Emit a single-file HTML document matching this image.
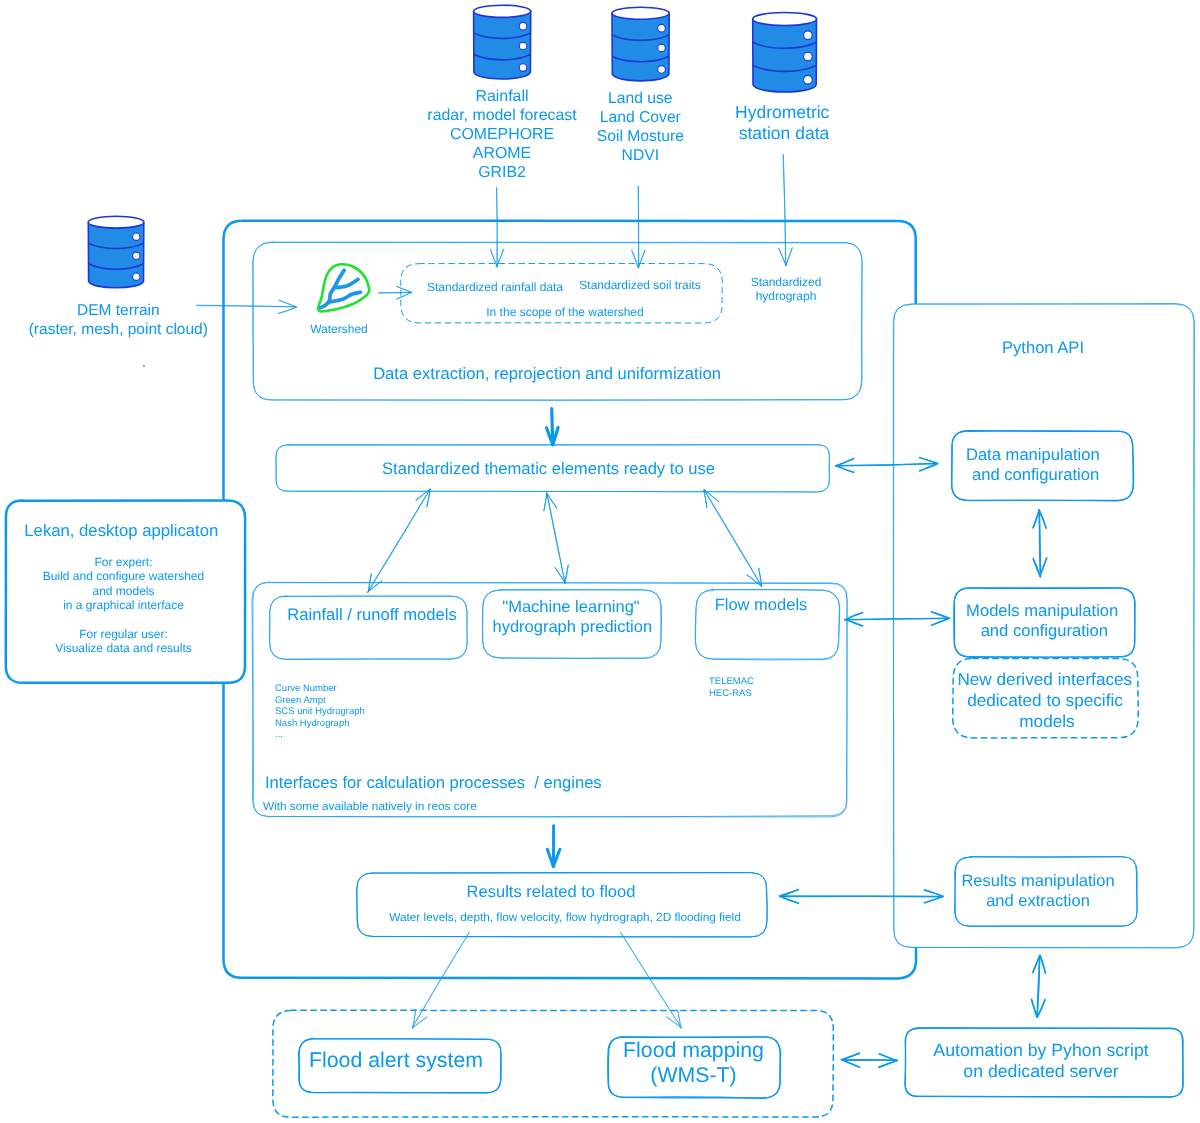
<!DOCTYPE html>
<html lang="en">
<head>
<meta charset="utf-8">
<title>Lekan / Reos architecture</title>
<style>
html,body{margin:0;padding:0;background:#fff;}
body{width:1200px;height:1123px;overflow:hidden;}
svg{display:block;will-change:transform;}
svg text{font-family:"Liberation Sans",sans-serif;fill:#0a98f0;text-rendering:geometricPrecision;}
</style>
</head>
<body>
<svg width="1200" height="1123" viewBox="0 0 1200 1123">
<path d="M241.6 220.8Q570.2 220.6 898 220.9Q915.7 221 915.7 239Q915.6 598.6 916 960.3Q915.8 977.9 898.1 978.4Q570 978 242 977.8Q223.9 978 223.5 959.9Q223.5 600.3 223.5 239Q223.8 220.9 241.7 220.7" fill="none" stroke="#0a98f0" stroke-width="2.5" stroke-linecap="round"/>
<path d="M272.7 242.1Q557.9 242.2 841.9 242.4Q862 242.2 862.2 262.4Q861.8 321.3 862 380.2Q862.1 399.9 842.3 399.8Q557.3 400.2 272.8 400Q252.7 400.1 253.2 380Q253.3 320.7 253.1 262.4Q253 242.3 273.2 242.6" fill="none" stroke="#0a98f0" stroke-width="0.7" stroke-linecap="round"/>
<path d="M273 242.5Q555.4 242.7 842.2 242.9Q862.4 242 861.9 262.5Q861.1 321 861.6 379.5Q861.5 400.3 841.6 399.7Q557 400.7 272.5 399.9Q253.1 400.5 253.4 380.4Q252.6 320.7 252.8 262.8Q253.5 241.9 272.6 242" fill="none" stroke="#0a98f0" stroke-width="0.7" stroke-linecap="round"/>
<path d="M418.8 263.6Q561.7 263.4 703.7 263.6Q721.9 263.6 722.3 281.7Q722 293.5 722.1 304.5Q722.2 323 704.2 323Q561.2 322.7 418.8 322.9Q400.7 322.5 400.8 304.6Q400.9 292.1 400.7 281.4Q400.8 263.5 418.7 263.8" fill="none" stroke="#0a98f0" stroke-width="1" stroke-linecap="round" stroke-dasharray="5.5 4.5"/>
<path d="M288.1 444.5Q552.2 444.6 817.5 444.5Q829.8 445 829.6 456.7Q829.2 467.1 829.5 479.4Q829.8 491.3 817.3 491.8Q552.9 491.2 288 491.2Q276 491.8 276.2 479.6Q275.8 467.8 275.8 456.9Q276 444.9 287.9 444.5" fill="none" stroke="#0a98f0" stroke-width="0.7" stroke-linecap="round"/>
<path d="M288.4 445.3Q554.5 445.3 818 445Q829.3 444.7 829.4 456.1Q828.8 467 829.3 479.7Q830.1 491.4 818.1 492.1Q555 491.3 287.7 491.2Q275.6 491.1 276.1 480Q276.6 468 276.2 457.1Q275.5 444.9 288.5 445" fill="none" stroke="#0a98f0" stroke-width="0.7" stroke-linecap="round"/>
<path d="M269.3 582.5Q548.3 583.1 830.8 582.9Q847.6 582.4 846.9 599.1Q847.4 697.8 846.5 800Q847.5 816.9 830.5 816.9Q552.5 816.8 268.8 816.6Q252.5 815.9 253.6 800.7Q253.1 701.8 252.9 599Q253.4 582.1 268.7 582.2" fill="none" stroke="#0a98f0" stroke-width="0.7" stroke-linecap="round"/>
<path d="M268.3 582.7Q547.5 582.2 830 583.6Q846.6 582.4 847.2 599.6Q846.7 703.8 847 800.6Q847.1 815.2 830.8 815.7Q544.8 817.7 268.1 816.4Q253.6 816.6 252.5 800.5Q253.2 702.5 252 598.7Q252.3 581.9 269.7 582.5" fill="none" stroke="#0a98f0" stroke-width="0.7" stroke-linecap="round"/>
<path d="M286 596.2Q369.5 595.9 451.1 596Q467 596.1 467 612Q467 628.6 467.1 643.2Q467.3 658.9 451 659.3Q369.3 658.7 285.8 659Q269.7 658.8 269.7 643.1Q270.3 628.5 269.8 612.1Q270.1 595.8 286.2 596.3" fill="none" stroke="#0a98f0" stroke-width="0.7" stroke-linecap="round"/>
<path d="M285.7 596.5Q368 596 451.6 596.4Q466.6 595.9 467 611.8Q466.5 626.6 467.3 642.4Q467.1 658.9 450.4 658.8Q369.1 659 285.5 659.6Q270.3 659.6 269.5 642.7Q269.2 628.8 269.7 611.6Q269.9 596.5 286.4 595.7" fill="none" stroke="#0a98f0" stroke-width="0.7" stroke-linecap="round"/>
<path d="M499.8 590.3Q572.2 590.2 643.8 589.7Q661.1 590 660.7 607.3Q661.1 624.7 660.8 641.2Q660.7 658.2 644 657.9Q572.1 658.4 499.9 657.8Q483 657.8 482.8 640.8Q482.6 623.3 482.9 606.9Q483.2 589.9 500 589.8" fill="none" stroke="#0a98f0" stroke-width="0.7" stroke-linecap="round"/>
<path d="M499.8 589.4Q570.8 589.1 644.3 590.1Q660.6 590 661.5 606.5Q661.6 623.7 661 641.4Q660.9 658 644.2 658.6Q571.2 658.6 500.2 658.2Q482.9 657.8 482.5 640.6Q482.2 625.2 482.7 606.6Q482.5 590.4 500.4 590.2" fill="none" stroke="#0a98f0" stroke-width="0.7" stroke-linecap="round"/>
<path d="M712.8 589.7Q766.7 589.9 821.7 589.9Q838.8 590.5 839.5 607Q838.6 626.4 838.8 641.9Q838.5 658.9 822 659Q766.3 659 712.5 658.8Q695.6 658.9 695.5 641.5Q695.7 623.4 696.1 607Q696.3 590.2 713.2 590.4" fill="none" stroke="#0a98f0" stroke-width="0.7" stroke-linecap="round"/>
<path d="M712.8 589.7Q771.4 588.9 822.4 590.3Q838.1 590.7 839.8 607.3Q839.7 627 838.3 642Q839 659.7 822.6 659.7Q768.2 660.2 713.4 659.4Q695.5 658.1 695.3 641.7Q694.8 627.2 696.1 607.3Q696.3 590.4 713 589" fill="none" stroke="#0a98f0" stroke-width="0.7" stroke-linecap="round"/>
<path d="M373.2 873.1Q562 873 751.1 872.7Q767.1 872.9 766.7 888.9Q767.2 904.2 767.1 921.1Q767 936.7 751 936.9Q562.6 936.9 373.1 936.5Q356.8 936.7 357.1 920.7Q357.1 903.7 356.7 888.9Q357.1 873.1 373.1 872.9" fill="none" stroke="#0a98f0" stroke-width="1" stroke-linecap="round"/>
<path d="M373 873Q561.8 872.3 751.5 872.6Q767.6 873.5 766.4 889Q767.6 907.1 766.9 920.5Q766.7 937.3 750.7 936.9Q560.3 936.8 373.5 936.4Q357.4 936.8 357.5 921Q356.5 906.8 357 888.4Q356.4 873 372.9 872.8" fill="none" stroke="#0a98f0" stroke-width="1" stroke-linecap="round"/>
<path d="M290.8 1010.2Q552.6 1010.6 814.7 1010.5Q833.2 1010.1 833.3 1028.4Q833.4 1063.1 832.9 1098.9Q833.3 1117.1 814.9 1117Q552.5 1116.6 290.8 1117.2Q272.9 1117.3 272.8 1098.9Q273 1062.9 272.9 1028.6Q273.2 1010.5 291.1 1010.5" fill="none" stroke="#0a98f0" stroke-width="1.5" stroke-linecap="round" stroke-dasharray="5.5 4.5"/>
<path d="M314.3 1039Q400.5 1038.6 486.1 1039Q501.2 1039.1 500.9 1053.7Q501.4 1065 501 1077.7Q500.9 1092.9 486.3 1092.7Q400.4 1092.6 314 1092.7Q298.8 1092.6 298.8 1078Q299 1065.2 299.2 1054.3Q299 1038.8 313.8 1038.8" fill="none" stroke="#0a98f0" stroke-width="1.2" stroke-linecap="round"/>
<path d="M313.8 1038.5Q398.7 1038.6 486.1 1039.5Q501.3 1038.9 500.9 1054Q500.8 1065.1 500.5 1077.5Q501.6 1092.4 486 1093Q401.7 1092.3 313.7 1092.5Q298.9 1092.7 299.5 1078.2Q299.7 1063.6 298.4 1054.3Q299.5 1039 314.1 1038.4" fill="none" stroke="#0a98f0" stroke-width="1.2" stroke-linecap="round"/>
<path d="M623.9 1037.4Q695.2 1037.5 764.4 1036.8Q779.6 1036.7 780 1053.2Q780.6 1068 780.1 1081.7Q780 1097.5 763.6 1097.8Q693 1098.1 624.1 1097.3Q607.7 1097.3 608.1 1081.7Q607.5 1065.7 608 1053.1Q607.9 1036.8 624.1 1036.6" fill="none" stroke="#0a98f0" stroke-width="1.2" stroke-linecap="round"/>
<path d="M623.6 1036.9Q697.3 1037.4 764.7 1037Q779.5 1036.5 780.8 1053.4Q779.5 1063.8 780 1081.8Q779.9 1097.1 764.3 1098.3Q692 1096.2 623.7 1097.4Q608.3 1097 608.5 1081.9Q608 1065.1 608.8 1052.7Q608.6 1036.5 623.5 1037.5" fill="none" stroke="#0a98f0" stroke-width="1.2" stroke-linecap="round"/>
<path d="M911.6 304Q1043.8 304 1176 304Q1194 304 1194 322Q1194 625.8 1194 929.6Q1194 947.6 1176 947.6Q1043.8 947.6 911.6 947.6Q893.6 947.6 893.6 929.6Q893.6 625.8 893.6 322Q893.6 304 911.6 304" fill="#fff" stroke="none"/>
<path d="M911.8 303.8Q1044.7 303.8 1175.9 304.2Q1194.2 304 1193.8 322Q1193.9 626.6 1193.8 929.5Q1194.2 947.4 1176 947.8Q1044.3 947.3 911.4 947.4Q893.8 947.5 893.7 929.8Q893.5 625.3 893.8 322.1Q893.5 304.1 911.5 303.9" fill="none" stroke="#0a98f0" stroke-width="0.7" stroke-linecap="round"/>
<path d="M911.1 304.3Q1045.5 304.2 1176.4 303.5Q1193.7 304 1194.5 322.5Q1193.8 624.8 1193.9 929.6Q1194.4 947.3 1176.3 947.8Q1045.1 948 911.7 947.4Q893.4 947.5 893.9 929.2Q893.1 626.8 893.3 321.6Q893.1 304.1 911.4 304.5" fill="none" stroke="#0a98f0" stroke-width="0.7" stroke-linecap="round"/>
<path d="M968.2 431.3Q1041.9 430.6 1116.8 431Q1133.1 431 1132.8 447Q1133.1 466.2 1133.1 484.7Q1133.1 500.3 1117.2 500.4Q1042.7 500.4 968.1 500.3Q951.8 500.3 951.8 484.7Q952.1 465.3 951.9 447.3Q952 430.8 968.2 431.1" fill="none" stroke="#0a98f0" stroke-width="1.2" stroke-linecap="round"/>
<path d="M968.6 430.5Q1042.4 431.6 1117.4 431.5Q1132.4 430.8 1132.5 446.6Q1133.9 466.1 1133.5 484.3Q1133.4 500.4 1116.7 500.8Q1044.6 499.8 968.1 500.6Q951.7 500.3 951.6 484.1Q951.6 466.2 952.2 446.6Q951.4 430.8 968.2 430.6" fill="none" stroke="#0a98f0" stroke-width="1.2" stroke-linecap="round"/>
<path d="M969.9 587.8Q1045.2 588 1118.7 587.8Q1134.9 588 1135.1 603.8Q1134.7 623 1134.9 640.9Q1134.9 657.3 1118.9 657Q1044.2 656.9 970.2 657.3Q953.9 656.8 954.1 640.8Q953.6 623.5 954 604.2Q953.9 588.2 970 587.8" fill="none" stroke="#0a98f0" stroke-width="1.2" stroke-linecap="round"/>
<path d="M969.4 588.1Q1045.2 588.7 1118.5 588.1Q1134.8 588 1134.6 603.7Q1135 624.5 1134.5 641Q1135.4 657.6 1118.6 656.6Q1046.6 657.9 970 656.5Q954.5 656.9 954.5 641.1Q954.6 620.9 954.3 603.7Q953.9 588.4 970.4 587.6" fill="none" stroke="#0a98f0" stroke-width="1.2" stroke-linecap="round"/>
<path d="M972.8 658.5Q1045.5 658.5 1117.8 658.4Q1138.1 658.8 1137.7 678.6Q1138.2 697.1 1138.2 717.6Q1138.1 737.8 1118.1 737.7Q1045.3 737.9 973 737.9Q953 737.8 952.7 717.9Q953 697.6 953.2 678.8Q953 658.4 973 658.4" fill="none" stroke="#0a98f0" stroke-width="1.5" stroke-linecap="round" stroke-dasharray="5.5 4.5"/>
<path d="M969.8 857Q1045 856.9 1122 856.7Q1137.1 856.7 1137.1 872.2Q1137 890.4 1137 910.9Q1137.3 925.8 1122.2 926.3Q1046.6 926.3 969.8 926.3Q955 926.3 955.2 910.8Q955.3 892.5 954.7 871.9Q955.2 856.8 970.2 856.9" fill="none" stroke="#0a98f0" stroke-width="1" stroke-linecap="round"/>
<path d="M970.4 856.6Q1046 857.8 1121.6 856.7Q1137 856.8 1136.4 871.6Q1136.4 893.6 1137.2 911.5Q1136.6 926.3 1121.5 926Q1046.7 925.7 970.4 926.1Q955.1 926.5 954.5 911.6Q955.2 891 955.4 871.7Q955.6 857.1 969.8 857.3" fill="none" stroke="#0a98f0" stroke-width="1" stroke-linecap="round"/>
<path d="M918.5 1028.1Q1044.8 1027.9 1170.2 1028.2Q1183.1 1028.6 1183.1 1041.4Q1182.8 1061.3 1182.7 1083.5Q1183.1 1096.7 1170 1096.9Q1043.4 1096.5 918.6 1096.4Q905.2 1096.6 905.3 1083.6Q905.3 1062.7 905.6 1041.1Q905.6 1028.3 918.3 1028.6" fill="none" stroke="#0a98f0" stroke-width="1.2" stroke-linecap="round"/>
<path d="M918.2 1027.9Q1042.3 1028.5 1170.4 1028.6Q1182.9 1028 1182.4 1041.5Q1183.1 1061.8 1183.2 1083.6Q1183.5 1097 1169.7 1097.2Q1042.1 1096.8 918.4 1096.4Q905 1097 904.9 1083.8Q906.3 1060.8 905.1 1041.4Q905.5 1028.5 918.9 1027.9" fill="none" stroke="#0a98f0" stroke-width="1.2" stroke-linecap="round"/>
<path d="M23 500.5Q125.5 500.5 228 500.5Q245 500.5 245 517.5Q245 591.6 245 665.7Q245 682.7 228 682.7Q125.5 682.7 23 682.7Q6 682.7 6 665.7Q6 591.6 6 517.5Q6 500.5 23 500.5" fill="#fff" stroke="none"/>
<path d="M23.1 500.8Q126.1 500.3 228.2 500.4Q244.8 500.7 245.1 517.6Q245.1 592.7 245 665.9Q245.1 682.9 228 682.8Q125.7 682.5 22.8 682.8Q5.7 682.9 5.8 665.4Q5.6 592.6 5.9 517.3Q5.7 500.2 23.1 500.6" fill="none" stroke="#0a98f0" stroke-width="2.5" stroke-linecap="round"/>
<path d="M496.6 187.6 Q497.4 227.5 496.9 266.9" fill="none" stroke="#0a98f0" stroke-width="0.7" stroke-linecap="round"/>
<path d="M496.6 187.9 Q497.6 227.8 497.4 267" fill="none" stroke="#0a98f0" stroke-width="0.7" stroke-linecap="round"/>
<path d="M496.7 266.2 Q493.1 257.5 490.6 249.6" fill="none" stroke="#0a98f0" stroke-width="0.7" stroke-linecap="round"/>
<path d="M497.1 266.4 Q493.9 258.5 490.1 249" fill="none" stroke="#0a98f0" stroke-width="0.7" stroke-linecap="round"/>
<path d="M496.9 266.5 Q500.7 257.5 503.2 249.1" fill="none" stroke="#0a98f0" stroke-width="0.7" stroke-linecap="round"/>
<path d="M496.9 266.5 Q500 258.3 504 249.3" fill="none" stroke="#0a98f0" stroke-width="0.7" stroke-linecap="round"/>
<path d="M638 186.4 Q639.2 227.2 638.4 267.8" fill="none" stroke="#0a98f0" stroke-width="0.7" stroke-linecap="round"/>
<path d="M638.5 186.2 Q638.2 227.4 638.9 267.1" fill="none" stroke="#0a98f0" stroke-width="0.7" stroke-linecap="round"/>
<path d="M638.1 267.3 Q635.7 258.3 632.1 250.6" fill="none" stroke="#0a98f0" stroke-width="0.7" stroke-linecap="round"/>
<path d="M638.5 267.7 Q634.4 258.8 631.6 250.2" fill="none" stroke="#0a98f0" stroke-width="0.7" stroke-linecap="round"/>
<path d="M638.3 267.9 Q641.6 259.4 645 250" fill="none" stroke="#0a98f0" stroke-width="0.7" stroke-linecap="round"/>
<path d="M638.2 267.6 Q642.1 258.9 644.8 250.5" fill="none" stroke="#0a98f0" stroke-width="0.7" stroke-linecap="round"/>
<path d="M783.1 154.9 Q784.9 210.8 785.9 265.3" fill="none" stroke="#0a98f0" stroke-width="0.7" stroke-linecap="round"/>
<path d="M783.4 154.5 Q785.3 209.4 785.7 265.2" fill="none" stroke="#0a98f0" stroke-width="0.7" stroke-linecap="round"/>
<path d="M785.9 265.7 Q783.1 256.9 778.7 248.3" fill="none" stroke="#0a98f0" stroke-width="0.7" stroke-linecap="round"/>
<path d="M786.2 265.5 Q782.5 257.3 778.8 248.2" fill="none" stroke="#0a98f0" stroke-width="0.7" stroke-linecap="round"/>
<path d="M786.1 265.6 Q788.5 257.2 791.9 247.9" fill="none" stroke="#0a98f0" stroke-width="0.7" stroke-linecap="round"/>
<path d="M785.7 265.4 Q789.5 256.8 792.5 247.7" fill="none" stroke="#0a98f0" stroke-width="0.7" stroke-linecap="round"/>
<path d="M196.9 305.7 Q245.9 305.9 296 306.8" fill="none" stroke="#0a98f0" stroke-width="0.7" stroke-linecap="round"/>
<path d="M196.7 305.1 Q246 305.9 296.1 306.8" fill="none" stroke="#0a98f0" stroke-width="0.7" stroke-linecap="round"/>
<path d="M296 307.5 Q288.4 310.6 278.6 313.3" fill="none" stroke="#0a98f0" stroke-width="0.7" stroke-linecap="round"/>
<path d="M296.5 307 Q288.4 310.7 278.7 313.5" fill="none" stroke="#0a98f0" stroke-width="0.7" stroke-linecap="round"/>
<path d="M296.2 306.7 Q287.1 303.2 279.1 300.4" fill="none" stroke="#0a98f0" stroke-width="0.7" stroke-linecap="round"/>
<path d="M296.4 307.1 Q288 303.6 278.9 300.3" fill="none" stroke="#0a98f0" stroke-width="0.7" stroke-linecap="round"/>
<path d="M378.9 292.7 Q394.7 293 411.4 292.5" fill="none" stroke="#0a98f0" stroke-width="0.7" stroke-linecap="round"/>
<path d="M378.7 293.2 Q394.7 292 411.6 292.5" fill="none" stroke="#0a98f0" stroke-width="0.7" stroke-linecap="round"/>
<path d="M411.4 292.3 Q404.6 296 396.6 299.1" fill="none" stroke="#0a98f0" stroke-width="0.7" stroke-linecap="round"/>
<path d="M411.5 292.5 Q403.4 295.5 396.9 298.8" fill="none" stroke="#0a98f0" stroke-width="0.7" stroke-linecap="round"/>
<path d="M411.4 292.2 Q403.8 289.1 396.7 286.4" fill="none" stroke="#0a98f0" stroke-width="0.7" stroke-linecap="round"/>
<path d="M411.5 292.2 Q403.4 289.4 396.6 286.4" fill="none" stroke="#0a98f0" stroke-width="0.7" stroke-linecap="round"/>
<path d="M551.7 408.5 Q552.1 426.5 552.9 444.6" fill="none" stroke="#0a98f0" stroke-width="3.2" stroke-linecap="round"/>
<path d="M552.8 444.6 Q549.5 436.2 546.5 427.8" fill="none" stroke="#0a98f0" stroke-width="3.2" stroke-linecap="round"/>
<path d="M552.8 444.7 Q555.6 436 558.1 427.5" fill="none" stroke="#0a98f0" stroke-width="3.2" stroke-linecap="round"/>
<path d="M553.6 825.7 Q553.6 846.1 553.5 866.3" fill="none" stroke="#0a98f0" stroke-width="3" stroke-linecap="round"/>
<path d="M553.4 866.4 Q550.3 857.7 547.3 849.2" fill="none" stroke="#0a98f0" stroke-width="3" stroke-linecap="round"/>
<path d="M553.4 866.4 Q556.6 857.7 559.9 849.2" fill="none" stroke="#0a98f0" stroke-width="3" stroke-linecap="round"/>
<path d="M430 488.9 Q398.5 541.2 367.6 592.2" fill="none" stroke="#0a98f0" stroke-width="0.8" stroke-linecap="round"/>
<path d="M430.1 489.3 Q399.7 540.8 367.7 592.4" fill="none" stroke="#0a98f0" stroke-width="0.8" stroke-linecap="round"/>
<path d="M368.3 592.2 Q369.4 583.3 371.1 574" fill="none" stroke="#0a98f0" stroke-width="0.8" stroke-linecap="round"/>
<path d="M368.3 591.8 Q369.7 582.4 371.5 574" fill="none" stroke="#0a98f0" stroke-width="0.8" stroke-linecap="round"/>
<path d="M367.9 591.6 Q374.9 586 381.8 581" fill="none" stroke="#0a98f0" stroke-width="0.8" stroke-linecap="round"/>
<path d="M367.8 591.9 Q374.8 586 382.2 581" fill="none" stroke="#0a98f0" stroke-width="0.8" stroke-linecap="round"/>
<path d="M430.4 489.5 Q428.8 497.8 426.6 507.2" fill="none" stroke="#0a98f0" stroke-width="0.8" stroke-linecap="round"/>
<path d="M429.8 489.5 Q429.2 498.5 427 506.5" fill="none" stroke="#0a98f0" stroke-width="0.8" stroke-linecap="round"/>
<path d="M430.2 489 Q422.2 495.4 415.6 500" fill="none" stroke="#0a98f0" stroke-width="0.8" stroke-linecap="round"/>
<path d="M430 488.9 Q422.6 495.2 416.2 500.5" fill="none" stroke="#0a98f0" stroke-width="0.8" stroke-linecap="round"/>
<path d="M547.1 493.3 Q555.3 538.8 565.2 583.4" fill="none" stroke="#0a98f0" stroke-width="0.8" stroke-linecap="round"/>
<path d="M546.7 493.2 Q556.6 538.7 565 583.2" fill="none" stroke="#0a98f0" stroke-width="0.8" stroke-linecap="round"/>
<path d="M565 582.8 Q560.1 576 555.2 567.5" fill="none" stroke="#0a98f0" stroke-width="0.8" stroke-linecap="round"/>
<path d="M565 582.7 Q560.2 574.7 555.4 567.8" fill="none" stroke="#0a98f0" stroke-width="0.8" stroke-linecap="round"/>
<path d="M564.6 583.3 Q566.6 574.7 568 565.3" fill="none" stroke="#0a98f0" stroke-width="0.8" stroke-linecap="round"/>
<path d="M564.9 582.9 Q566.8 574.7 568.4 564.9" fill="none" stroke="#0a98f0" stroke-width="0.8" stroke-linecap="round"/>
<path d="M546.6 493.1 Q552 500.8 556.8 508.6" fill="none" stroke="#0a98f0" stroke-width="0.8" stroke-linecap="round"/>
<path d="M547 493 Q551.5 501.4 556.9 507.8" fill="none" stroke="#0a98f0" stroke-width="0.8" stroke-linecap="round"/>
<path d="M546.9 493.3 Q545.8 502.1 543.9 510.7" fill="none" stroke="#0a98f0" stroke-width="0.8" stroke-linecap="round"/>
<path d="M546.8 492.9 Q545.5 502.3 543.9 510.8" fill="none" stroke="#0a98f0" stroke-width="0.8" stroke-linecap="round"/>
<path d="M704.4 489.9 Q733.5 537.6 761.6 585.9" fill="none" stroke="#0a98f0" stroke-width="0.8" stroke-linecap="round"/>
<path d="M704.3 490.3 Q732.9 539 761.4 585.9" fill="none" stroke="#0a98f0" stroke-width="0.8" stroke-linecap="round"/>
<path d="M761.7 586.3 Q754.2 580.7 747.1 575.2" fill="none" stroke="#0a98f0" stroke-width="0.8" stroke-linecap="round"/>
<path d="M761.2 585.9 Q755.1 580.6 747 574.7" fill="none" stroke="#0a98f0" stroke-width="0.8" stroke-linecap="round"/>
<path d="M761.7 586.3 Q760.7 577.4 758.8 568.5" fill="none" stroke="#0a98f0" stroke-width="0.8" stroke-linecap="round"/>
<path d="M761.8 586.2 Q760.2 577.4 758.7 568.1" fill="none" stroke="#0a98f0" stroke-width="0.8" stroke-linecap="round"/>
<path d="M704.3 489.7 Q711.4 495.5 718 500.7" fill="none" stroke="#0a98f0" stroke-width="0.8" stroke-linecap="round"/>
<path d="M704.2 489.9 Q711.6 496.2 718.5 501.3" fill="none" stroke="#0a98f0" stroke-width="0.8" stroke-linecap="round"/>
<path d="M703.9 489.9 Q705.7 498.5 707 507.7" fill="none" stroke="#0a98f0" stroke-width="0.8" stroke-linecap="round"/>
<path d="M703.7 490.1 Q705.9 499.6 706.8 507.4" fill="none" stroke="#0a98f0" stroke-width="0.8" stroke-linecap="round"/>
<path d="M836.4 465.7 Q887.4 465 937.1 463.7" fill="none" stroke="#0a98f0" stroke-width="1.3" stroke-linecap="round"/>
<path d="M836.5 465.8 Q887 465.7 937.5 463.4" fill="none" stroke="#0a98f0" stroke-width="1.3" stroke-linecap="round"/>
<path d="M937.3 463.4 Q929 466.9 919.6 471.1" fill="none" stroke="#0a98f0" stroke-width="1.3" stroke-linecap="round"/>
<path d="M937.3 464.1 Q928.2 468.1 919.7 470.6" fill="none" stroke="#0a98f0" stroke-width="1.3" stroke-linecap="round"/>
<path d="M937.8 463.5 Q929 460.2 919.4 457.6" fill="none" stroke="#0a98f0" stroke-width="1.3" stroke-linecap="round"/>
<path d="M937.8 463.5 Q929 461.1 919.8 457.5" fill="none" stroke="#0a98f0" stroke-width="1.3" stroke-linecap="round"/>
<path d="M835.8 466.2 Q844.7 462.9 853.8 458.3" fill="none" stroke="#0a98f0" stroke-width="1.3" stroke-linecap="round"/>
<path d="M836.3 465.5 Q844 462.5 853.4 458.8" fill="none" stroke="#0a98f0" stroke-width="1.3" stroke-linecap="round"/>
<path d="M836 465.4 Q844.4 469.6 853.8 472.3" fill="none" stroke="#0a98f0" stroke-width="1.3" stroke-linecap="round"/>
<path d="M835.7 466 Q844.8 469.3 853.8 472.4" fill="none" stroke="#0a98f0" stroke-width="1.3" stroke-linecap="round"/>
<path d="M844.9 619.7 Q897.3 618.6 949.5 618.4" fill="none" stroke="#0a98f0" stroke-width="1.3" stroke-linecap="round"/>
<path d="M844.6 619.9 Q897.2 618.3 949.3 618.4" fill="none" stroke="#0a98f0" stroke-width="1.3" stroke-linecap="round"/>
<path d="M949.5 618.4 Q940 621.8 931.5 625" fill="none" stroke="#0a98f0" stroke-width="1.3" stroke-linecap="round"/>
<path d="M949 618.2 Q940.2 622.2 931.5 625.4" fill="none" stroke="#0a98f0" stroke-width="1.3" stroke-linecap="round"/>
<path d="M948.7 617.9 Q940.7 614.5 931.2 611.6" fill="none" stroke="#0a98f0" stroke-width="1.3" stroke-linecap="round"/>
<path d="M948.7 618.4 Q940.7 615.4 931.5 611.8" fill="none" stroke="#0a98f0" stroke-width="1.3" stroke-linecap="round"/>
<path d="M845.3 619.6 Q853.9 615.5 862.8 612.7" fill="none" stroke="#0a98f0" stroke-width="1.3" stroke-linecap="round"/>
<path d="M845 619.6 Q853.6 615.2 862.4 612.6" fill="none" stroke="#0a98f0" stroke-width="1.3" stroke-linecap="round"/>
<path d="M845.1 619.5 Q854.6 622.3 862.8 625.8" fill="none" stroke="#0a98f0" stroke-width="1.3" stroke-linecap="round"/>
<path d="M845.2 619.4 Q853.5 623.1 862.5 626.2" fill="none" stroke="#0a98f0" stroke-width="1.3" stroke-linecap="round"/>
<path d="M780.1 896.7 Q861.9 895.9 943.2 896.5" fill="none" stroke="#0a98f0" stroke-width="1.3" stroke-linecap="round"/>
<path d="M779.7 896 Q861.4 896.6 942.5 896.7" fill="none" stroke="#0a98f0" stroke-width="1.3" stroke-linecap="round"/>
<path d="M942.7 896.5 Q933.4 899.9 924.2 902.8" fill="none" stroke="#0a98f0" stroke-width="1.3" stroke-linecap="round"/>
<path d="M942.5 896.6 Q934.4 899.6 924.7 902.9" fill="none" stroke="#0a98f0" stroke-width="1.3" stroke-linecap="round"/>
<path d="M942.8 896.1 Q933.8 892.9 924.1 890.2" fill="none" stroke="#0a98f0" stroke-width="1.3" stroke-linecap="round"/>
<path d="M942.9 896.3 Q934.2 893.1 924.7 889.7" fill="none" stroke="#0a98f0" stroke-width="1.3" stroke-linecap="round"/>
<path d="M780.3 896.7 Q789.9 893.4 798.1 889.3" fill="none" stroke="#0a98f0" stroke-width="1.3" stroke-linecap="round"/>
<path d="M779.7 895.9 Q788.7 892.5 798.4 889.9" fill="none" stroke="#0a98f0" stroke-width="1.3" stroke-linecap="round"/>
<path d="M780.3 896 Q789.1 900.4 798.4 902.9" fill="none" stroke="#0a98f0" stroke-width="1.3" stroke-linecap="round"/>
<path d="M779.8 896.4 Q788.5 900.4 798.4 903.4" fill="none" stroke="#0a98f0" stroke-width="1.3" stroke-linecap="round"/>
<path d="M1039.4 509.8 Q1040.1 542.9 1040.5 576.7" fill="none" stroke="#0a98f0" stroke-width="1.4" stroke-linecap="round"/>
<path d="M1039.3 510 Q1039.2 542.2 1040.4 576.6" fill="none" stroke="#0a98f0" stroke-width="1.4" stroke-linecap="round"/>
<path d="M1040.2 576.4 Q1037.1 566.6 1033.2 558.9" fill="none" stroke="#0a98f0" stroke-width="1.4" stroke-linecap="round"/>
<path d="M1040.2 576.6 Q1035.8 566.8 1033.2 558.4" fill="none" stroke="#0a98f0" stroke-width="1.4" stroke-linecap="round"/>
<path d="M1039.7 576.1 Q1043.5 567.7 1046.5 558.1" fill="none" stroke="#0a98f0" stroke-width="1.4" stroke-linecap="round"/>
<path d="M1039.8 575.9 Q1043.3 566.8 1046.8 558" fill="none" stroke="#0a98f0" stroke-width="1.4" stroke-linecap="round"/>
<path d="M1039.1 510.4 Q1043.3 518.5 1046.2 528.1" fill="none" stroke="#0a98f0" stroke-width="1.4" stroke-linecap="round"/>
<path d="M1039.2 510.1 Q1043.6 519.6 1046.1 528.1" fill="none" stroke="#0a98f0" stroke-width="1.4" stroke-linecap="round"/>
<path d="M1039.5 510 Q1036.7 519.2 1033.1 527.9" fill="none" stroke="#0a98f0" stroke-width="1.4" stroke-linecap="round"/>
<path d="M1039.3 509.7 Q1036.4 518.4 1033 527.9" fill="none" stroke="#0a98f0" stroke-width="1.4" stroke-linecap="round"/>
<path d="M1039.8 955.5 Q1038 987 1037.1 1016.8" fill="none" stroke="#0a98f0" stroke-width="1.4" stroke-linecap="round"/>
<path d="M1039.7 955.6 Q1039.4 986 1037.2 1017.4" fill="none" stroke="#0a98f0" stroke-width="1.4" stroke-linecap="round"/>
<path d="M1037 1017.3 Q1033.8 1009 1031.6 999.2" fill="none" stroke="#0a98f0" stroke-width="1.4" stroke-linecap="round"/>
<path d="M1037.2 1016.8 Q1034.4 1007.9 1031.4 999.9" fill="none" stroke="#0a98f0" stroke-width="1.4" stroke-linecap="round"/>
<path d="M1037.1 1016.8 Q1041.9 1009.2 1045.1 999.7" fill="none" stroke="#0a98f0" stroke-width="1.4" stroke-linecap="round"/>
<path d="M1037.8 1016.6 Q1041.4 1008.2 1045 999.9" fill="none" stroke="#0a98f0" stroke-width="1.4" stroke-linecap="round"/>
<path d="M1040.3 955.6 Q1042.4 963.6 1045.6 973.1" fill="none" stroke="#0a98f0" stroke-width="1.4" stroke-linecap="round"/>
<path d="M1040.1 955.3 Q1043.6 963.9 1045.6 973.4" fill="none" stroke="#0a98f0" stroke-width="1.4" stroke-linecap="round"/>
<path d="M1039.7 955.3 Q1036.7 963.6 1032.7 972.6" fill="none" stroke="#0a98f0" stroke-width="1.4" stroke-linecap="round"/>
<path d="M1040.1 955.8 Q1036 963.6 1032.9 972.6" fill="none" stroke="#0a98f0" stroke-width="1.4" stroke-linecap="round"/>
<path d="M841.8 1059.9 Q868.7 1059.4 897.2 1060.2" fill="none" stroke="#0a98f0" stroke-width="1.4" stroke-linecap="round"/>
<path d="M841.9 1060.4 Q869.9 1060 897 1060.1" fill="none" stroke="#0a98f0" stroke-width="1.4" stroke-linecap="round"/>
<path d="M897.3 1060.4 Q888.8 1063.9 878.9 1067.5" fill="none" stroke="#0a98f0" stroke-width="1.4" stroke-linecap="round"/>
<path d="M896.9 1060.7 Q887.9 1063.4 878.8 1067.2" fill="none" stroke="#0a98f0" stroke-width="1.4" stroke-linecap="round"/>
<path d="M896.7 1060.8 Q888.1 1057.1 879.6 1053.9" fill="none" stroke="#0a98f0" stroke-width="1.4" stroke-linecap="round"/>
<path d="M896.9 1060.8 Q887.9 1057.4 879 1053.9" fill="none" stroke="#0a98f0" stroke-width="1.4" stroke-linecap="round"/>
<path d="M841.6 1060 Q851.2 1056.7 859.4 1053" fill="none" stroke="#0a98f0" stroke-width="1.4" stroke-linecap="round"/>
<path d="M841.3 1059.7 Q851.3 1056.2 859.2 1053.6" fill="none" stroke="#0a98f0" stroke-width="1.4" stroke-linecap="round"/>
<path d="M841.8 1059.8 Q849.7 1062.9 858.9 1067.1" fill="none" stroke="#0a98f0" stroke-width="1.4" stroke-linecap="round"/>
<path d="M841.8 1059.7 Q850.6 1063.5 859.6 1067.2" fill="none" stroke="#0a98f0" stroke-width="1.4" stroke-linecap="round"/>
<path d="M469.3 932 Q440 979.1 412.4 1027.3" fill="none" stroke="#0a98f0" stroke-width="0.6" stroke-linecap="round"/>
<path d="M469.4 932.4 Q440.8 979.1 412.2 1027.8" fill="none" stroke="#0a98f0" stroke-width="0.6" stroke-linecap="round"/>
<path d="M412.9 1028.1 Q414.5 1018.3 415.5 1009.9" fill="none" stroke="#0a98f0" stroke-width="0.6" stroke-linecap="round"/>
<path d="M412.5 1028.1 Q414.7 1018.9 415.8 1009.8" fill="none" stroke="#0a98f0" stroke-width="0.6" stroke-linecap="round"/>
<path d="M412.5 1028.1 Q419.2 1021.9 427 1016.9" fill="none" stroke="#0a98f0" stroke-width="0.6" stroke-linecap="round"/>
<path d="M412.2 1027.7 Q420.2 1022.7 427.1 1016.9" fill="none" stroke="#0a98f0" stroke-width="0.6" stroke-linecap="round"/>
<path d="M621 932.7 Q650.4 980.1 681 1027.3" fill="none" stroke="#0a98f0" stroke-width="0.6" stroke-linecap="round"/>
<path d="M620.4 932.4 Q650.8 980.3 681.5 1028" fill="none" stroke="#0a98f0" stroke-width="0.6" stroke-linecap="round"/>
<path d="M681.2 1028 Q674.5 1022.5 666.9 1016.6" fill="none" stroke="#0a98f0" stroke-width="0.6" stroke-linecap="round"/>
<path d="M681.1 1027.5 Q674 1022 666.6 1017.3" fill="none" stroke="#0a98f0" stroke-width="0.6" stroke-linecap="round"/>
<path d="M681 1027.6 Q679.4 1018.5 677.8 1009.9" fill="none" stroke="#0a98f0" stroke-width="0.6" stroke-linecap="round"/>
<path d="M680.7 1027.8 Q678.9 1019.1 677.8 1010.1" fill="none" stroke="#0a98f0" stroke-width="0.6" stroke-linecap="round"/>
<path d="M473.6 11.3 L473.9 72.2 C477 81.3 527.3 81.3 530.4 72.2 L530.7 11.3 Z" fill="#228be6" stroke="#1c36d8" stroke-width="1.6" stroke-linejoin="round"/>
<ellipse cx="502.2" cy="11.3" rx="28.6" ry="6.1" fill="#fff" stroke="#1c36d8" stroke-width="1.6"/>
<path d="M473.6 32.9 C487.9 40.3 516.4 40.3 530.7 32.9" fill="none" stroke="#1c36d8" stroke-width="1.6"/>
<path d="M473.6 54.3 C487.9 61.7 516.4 61.7 530.7 54.3" fill="none" stroke="#1c36d8" stroke-width="1.6"/>
<circle cx="523" cy="26.2" r="3.8" fill="#fff" stroke="#1c36d8" stroke-width="1.1"/>
<circle cx="523" cy="46" r="3.8" fill="#fff" stroke="#1c36d8" stroke-width="1.1"/>
<circle cx="523" cy="67.6" r="3.8" fill="#fff" stroke="#1c36d8" stroke-width="1.1"/>
<path d="M612 13.3 L612.3 74 C615.4 83.1 665.8 83.1 668.9 74 L669.2 13.3 Z" fill="#228be6" stroke="#1c36d8" stroke-width="1.6" stroke-linejoin="round"/>
<ellipse cx="640.6" cy="13.3" rx="28.6" ry="6" fill="#fff" stroke="#1c36d8" stroke-width="1.6"/>
<path d="M612 34.9 C626.3 42.2 654.9 42.2 669.2 34.9" fill="none" stroke="#1c36d8" stroke-width="1.6"/>
<path d="M612 56.2 C626.3 63.5 654.9 63.5 669.2 56.2" fill="none" stroke="#1c36d8" stroke-width="1.6"/>
<circle cx="661.5" cy="28.2" r="3.8" fill="#fff" stroke="#1c36d8" stroke-width="1.1"/>
<circle cx="661.5" cy="47.9" r="3.8" fill="#fff" stroke="#1c36d8" stroke-width="1.1"/>
<circle cx="661.5" cy="69.4" r="3.8" fill="#fff" stroke="#1c36d8" stroke-width="1.1"/>
<path d="M752.7 19 L753 84.7 C756.5 94.4 812.7 94.4 816.2 84.7 L816.5 19 Z" fill="#228be6" stroke="#1c36d8" stroke-width="1.6" stroke-linejoin="round"/>
<ellipse cx="784.6" cy="19" rx="31.9" ry="6.5" fill="#fff" stroke="#1c36d8" stroke-width="1.6"/>
<path d="M752.7 42.3 C768.7 50.3 800.5 50.3 816.5 42.3" fill="none" stroke="#1c36d8" stroke-width="1.6"/>
<path d="M752.7 65.4 C768.7 73.3 800.5 73.3 816.5 65.4" fill="none" stroke="#1c36d8" stroke-width="1.6"/>
<circle cx="807.9" cy="35.2" r="4.3" fill="#fff" stroke="#1c36d8" stroke-width="1.1"/>
<circle cx="807.9" cy="56.5" r="4.3" fill="#fff" stroke="#1c36d8" stroke-width="1.1"/>
<circle cx="807.9" cy="79.7" r="4.3" fill="#fff" stroke="#1c36d8" stroke-width="1.1"/>
<path d="M88.3 222.2 L88.6 281.2 C91.6 290 140.5 290 143.5 281.2 L143.8 222.2 Z" fill="#228be6" stroke="#1c36d8" stroke-width="1.6" stroke-linejoin="round"/>
<ellipse cx="116.1" cy="222.2" rx="27.8" ry="5.9" fill="#fff" stroke="#1c36d8" stroke-width="1.6"/>
<path d="M88.3 243.1 C102.2 250.3 129.9 250.3 143.8 243.1" fill="none" stroke="#1c36d8" stroke-width="1.6"/>
<path d="M88.3 263.8 C102.2 271 129.9 271 143.8 263.8" fill="none" stroke="#1c36d8" stroke-width="1.6"/>
<circle cx="136.3" cy="236.7" r="3.7" fill="#fff" stroke="#1c36d8" stroke-width="1.1"/>
<circle cx="136.3" cy="255.8" r="3.7" fill="#fff" stroke="#1c36d8" stroke-width="1.1"/>
<circle cx="136.3" cy="276.7" r="3.7" fill="#fff" stroke="#1c36d8" stroke-width="1.1"/>
<path d="M340.8 264.3C344.1 264.1 348 264.3 351.7 266C355.4 267.7 360.1 270.8 363 274.3C365.9 277.9 368.2 284.1 368.8 287.5C369.5 290.9 369.6 291.9 367 294.7C364.4 297.4 358.7 301.4 353.3 303.8C348 306.3 340.8 308.4 335 309.5C329.2 310.6 320.9 312.8 318.7 310.7C316.4 308.5 320.5 302.2 321.7 296.7C322.9 291.1 324.1 282.3 325.8 277.5C327.6 272.7 329.5 269.9 332 267.7C334.5 265.5 337.6 264.6 340.8 264.3Z" fill="none" stroke="#1ee42c" stroke-width="2.6" stroke-linejoin="round"/>
<path d="M344.2 270.3C343.2 271.9 340 276.8 338.3 279.7C336.7 282.5 335.7 285.1 334.3 287.5C333 289.9 331.2 291.9 330.3 294.2C329.5 296.4 330.2 299 329.3 300.8C328.5 302.7 326.8 304.2 325.3 305.3C323.8 306.5 321.2 307.3 320.3 307.7 M334.3 287.8C336.2 287.6 342.7 287.1 345.8 286.2C349 285.3 351.3 283.6 353.3 282.5C355.4 281.4 357.2 279.9 358 279.3 M329.7 302C331.9 301.5 339.7 300.3 343.3 299C347 297.7 348.8 295.5 351.7 294.3C354.5 293.2 359 292.5 360.5 292.2" fill="none" stroke="#1e94ee" stroke-width="3.7" stroke-linecap="round" stroke-linejoin="round"/>
<circle cx="144" cy="366" r="0.9" fill="#6b8e23"/>
<text x="502" y="101.3" font-size="15.9" text-anchor="middle">Rainfall</text>
<text x="502" y="120.3" font-size="15.9" text-anchor="middle">radar, model forecast</text>
<text x="502" y="139.3" font-size="15.9" text-anchor="middle">COMEPHORE</text>
<text x="502" y="158.3" font-size="15.9" text-anchor="middle">AROME</text>
<text x="502" y="177.3" font-size="15.9" text-anchor="middle">GRIB2</text>
<text x="640.3" y="103" font-size="15.7" text-anchor="middle">Land use</text>
<text x="640.3" y="122" font-size="15.7" text-anchor="middle">Land Cover</text>
<text x="640.3" y="141" font-size="15.7" text-anchor="middle">Soil Mosture</text>
<text x="640.3" y="160" font-size="15.7" text-anchor="middle">NDVI</text>
<text x="782.2" y="117.5" font-size="17.5" text-anchor="middle">Hydrometric</text>
<text x="784" y="138.5" font-size="17.5" text-anchor="middle">station data</text>
<text x="118.3" y="315" font-size="15.5" text-anchor="middle">DEM terrain</text>
<text x="118.3" y="334" font-size="15.5" text-anchor="middle">(raster, mesh, point cloud)</text>
<text x="339" y="332.5" font-size="12" text-anchor="middle">Watershed</text>
<text x="495" y="291" font-size="12" text-anchor="middle">Standardized rainfall data</text>
<text x="640" y="289" font-size="12" text-anchor="middle">Standardized soil traits</text>
<text x="565" y="316" font-size="12" text-anchor="middle">In the scope of the watershed</text>
<text x="786" y="286" font-size="12" text-anchor="middle">Standardized</text>
<text x="786" y="300" font-size="12" text-anchor="middle">hydrograph</text>
<text x="547" y="378.5" font-size="16.6" text-anchor="middle">Data extraction, reprojection and uniformization</text>
<text x="548.5" y="473.5" font-size="16.6" text-anchor="middle">Standardized thematic elements ready to use</text>
<text x="372" y="619.8" font-size="16.6" text-anchor="middle">Rainfall / runoff models</text>
<text x="571" y="612" font-size="16.5" text-anchor="middle">&quot;Machine learning&quot;</text>
<text x="572.3" y="632" font-size="16.5" text-anchor="middle">hydrograph prediction</text>
<text x="761" y="609.5" font-size="16.5" text-anchor="middle">Flow models</text>
<text x="275" y="691" font-size="9.5" text-anchor="start">Curve Number</text>
<text x="275" y="702.5" font-size="9.5" text-anchor="start">Green Ampt</text>
<text x="275" y="714.1" font-size="9.5" text-anchor="start">SCS unit Hydrograph</text>
<text x="275" y="725.6" font-size="9.5" text-anchor="start">Nash Hydrograph</text>
<text x="275" y="737.2" font-size="9.5" text-anchor="start">...</text>
<text x="709" y="684" font-size="9.5" text-anchor="start">TELEMAC</text>
<text x="709" y="695.5" font-size="9.5" text-anchor="start">HEC-RAS</text>
<text x="265" y="788" font-size="16.6" text-anchor="start">Interfaces for calculation processes  / engines</text>
<text x="263" y="810" font-size="11.8" text-anchor="start">With some available natively in reos core</text>
<text x="551" y="897" font-size="16.5" text-anchor="middle">Results related to flood</text>
<text x="565" y="921" font-size="11.8" text-anchor="middle">Water levels, depth, flow velocity, flow hydrograph, 2D flooding field</text>
<text x="396" y="1066.7" font-size="21.3" text-anchor="middle">Flood alert system</text>
<text x="693.5" y="1057" font-size="21.3" text-anchor="middle">Flood mapping</text>
<text x="693.5" y="1082" font-size="21.3" text-anchor="middle">(WMS-T)</text>
<text x="1043" y="352.8" font-size="16.6" text-anchor="middle">Python API</text>
<text x="1032.8" y="459.5" font-size="16.6" text-anchor="middle">Data manipulation</text>
<text x="1035.6" y="479.5" font-size="16.6" text-anchor="middle">and configuration</text>
<text x="1042.2" y="615.5" font-size="16.6" text-anchor="middle">Models manipulation</text>
<text x="1044.3" y="635.5" font-size="16.6" text-anchor="middle">and configuration</text>
<text x="1044.8" y="684.5" font-size="17.2" text-anchor="middle">New derived interfaces</text>
<text x="1045" y="705.5" font-size="17.2" text-anchor="middle">dedicated to specific</text>
<text x="1047" y="726.5" font-size="17.2" text-anchor="middle">models</text>
<text x="1038" y="885.5" font-size="16.5" text-anchor="middle">Results manipulation</text>
<text x="1038" y="905.5" font-size="16.5" text-anchor="middle">and extraction</text>
<text x="1041" y="1055.5" font-size="17.7" text-anchor="middle">Automation by Pyhon script</text>
<text x="1041" y="1076.5" font-size="17.7" text-anchor="middle">on dedicated server</text>
<text x="121.3" y="536" font-size="16.7" text-anchor="middle">Lekan, desktop applicaton</text>
<text x="123.5" y="566" font-size="12" text-anchor="middle">For expert:</text>
<text x="123.5" y="580.3" font-size="12" text-anchor="middle">Build and configure watershed</text>
<text x="123.5" y="594.6" font-size="12" text-anchor="middle">and models</text>
<text x="123.5" y="608.9" font-size="12" text-anchor="middle">in a graphical interface</text>
<text x="123.5" y="637.5" font-size="12" text-anchor="middle">For regular user:</text>
<text x="123.5" y="651.8" font-size="12" text-anchor="middle">Visualize data and results</text>
</svg>
</body>
</html>
